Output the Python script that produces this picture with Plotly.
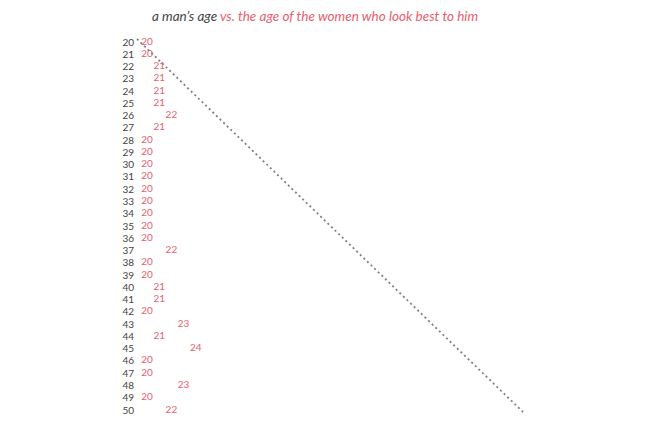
import plotly.graph_objects as go

# a man's age (rows) and the age of the women who look best to him
man_age = list(range(20, 51))
women_age = [20, 20, 21, 21, 21, 21, 22, 21, 20, 20,
             20, 20, 20, 20, 20, 20, 20, 22, 20, 20,
             21, 21, 20, 23, 21, 24, 20, 20, 23, 20,
             22]

RED = "#e8606e"
GREY = "#444444"
FONT = "Lato, Open Sans, sans-serif"

fig = go.Figure()

# dotted "same age" guide line
fig.add_trace(go.Scatter(
    x=[man_age[0], man_age[-1]],
    y=[man_age[0], man_age[-1]],
    mode="lines",
    line=dict(color="#808080", width=1.8, dash="2px,3px"),
    xaxis="x2", yaxis="y2",
    hoverinfo="skip",
))

fig.add_trace(go.Scatter(
    x=women_age,
    y=man_age,
    mode="text",
    text=[str(v) for v in women_age],
    textposition="middle center",
    textfont=dict(family=FONT, size=10, color=RED),
    hoverinfo="skip",
))

fig.update_layout(
    width=645, height=424,
    margin=dict(l=127, r=0, t=0, b=0),
    paper_bgcolor="white", plot_bgcolor="white",
    showlegend=False,
    xaxis=dict(range=[19.016, 61.475], visible=False),
    yaxis=dict(range=[51.793, 17.228], showgrid=False, zeroline=False,
               tickvals=man_age, ticktext=[str(v) for v in man_age],
               ticks="", showline=False,
               tickfont=dict(family=FONT, size=10, color=GREY)),
    xaxis2=dict(range=[19.845, 60.10], overlaying="x", visible=False),
    yaxis2=dict(range=[51.609, 17.507], overlaying="y", visible=False),
)

fig.add_annotation(
    xref="paper", yref="paper", x=0.3475, y=1 - 8 / 424,
    xanchor="center", yanchor="middle", showarrow=False,
    text=("<i><span style='color:%s'>a man’s age</span> "
          "<span style='color:%s'>vs. the age of the women who look best to him</span></i>"
          % (GREY, RED)),
    font=dict(family=FONT, size=13.5),
)

fig.write_html("out.html")
